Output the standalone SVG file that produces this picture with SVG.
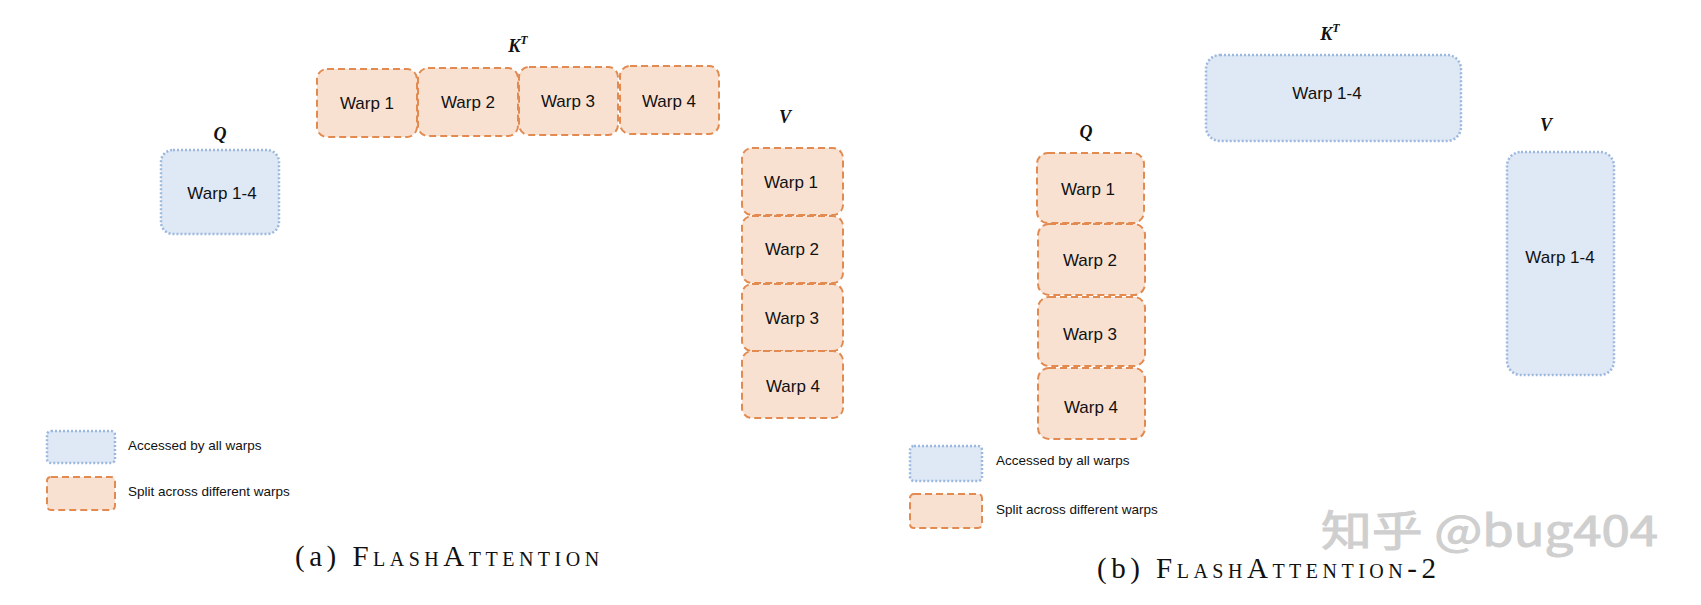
<svg xmlns="http://www.w3.org/2000/svg" width="1701" height="605" viewBox="0 0 1701 605">
<style>
.o{fill:#f9e1d2;stroke:#e28a4f;stroke-width:2;stroke-dasharray:7 4}
.b{fill:#dfe8f5;stroke:#9cb8de;stroke-width:2.5;stroke-dasharray:2 2}
.t{font-family:"Liberation Sans",Arial,sans-serif;font-size:17px;fill:#111;text-anchor:middle;dominant-baseline:central}
.l{font-family:"Liberation Sans",Arial,sans-serif;font-size:13.5px;fill:#111;dominant-baseline:central}
.m{font-family:"Liberation Serif",serif;font-weight:bold;font-style:italic;font-size:18px;fill:#111;text-anchor:middle}
.c{font-family:"Liberation Serif",serif;font-size:29px;fill:#111;letter-spacing:4.5px}
.sc{font-variant:small-caps}
</style>
<rect width="1701" height="605" fill="#fff"/>
<g id="a">
<text class="m" x="518" y="52">K<tspan font-size="12" dy="-8">T</tspan></text>
<g id="a-k1"><rect class="o" x="317" y="69" width="100" height="68" rx="10"/><text class="t" x="367" y="103">Warp 1</text></g>
<g id="a-k2"><rect class="o" x="418" y="68" width="100" height="68" rx="10"/><text class="t" x="468" y="102">Warp 2</text></g>
<g id="a-k3"><rect class="o" x="519" y="67" width="99" height="68" rx="10"/><text class="t" x="568" y="101">Warp 3</text></g>
<g id="a-k4"><rect class="o" x="620" y="66" width="99" height="68" rx="10"/><text class="t" x="669" y="101">Warp 4</text></g>
<text class="m" x="220" y="140">Q</text>
<g id="a-q"><rect class="b" x="161" y="150" width="118" height="84" rx="12"/><text class="t" x="222" y="193">Warp 1-4</text></g>
<text class="m" x="785" y="123">V</text>
<g id="a-v1"><rect class="o" x="742" y="148" width="101" height="67" rx="10"/><text class="t" x="791" y="182">Warp 1</text></g>
<g id="a-v2"><rect class="o" x="742" y="216" width="101" height="67" rx="10"/><text class="t" x="792" y="249">Warp 2</text></g>
<g id="a-v3"><rect class="o" x="742" y="284" width="101" height="67" rx="10"/><text class="t" x="792" y="318">Warp 3</text></g>
<g id="a-v4"><rect class="o" x="742" y="351" width="101" height="67" rx="10"/><text class="t" x="793" y="386">Warp 4</text></g>
<g id="a-leg"><rect class="b" x="47" y="431" width="68" height="32" rx="4"/><text class="l" x="128" y="445">Accessed by all warps</text>
<rect class="o" x="47" y="477" width="68" height="33" rx="4"/><text class="l" x="128" y="491">Split across different warps</text></g>
<text class="c" x="295" y="566">(a) <tspan class="sc">FlashAttention</tspan></text>
</g>
<g id="b">
<text class="m" x="1330" y="40">K<tspan font-size="12" dy="-8">T</tspan></text>
<g id="b-k"><rect class="b" x="1206" y="55" width="255" height="86" rx="14"/><text class="t" x="1327" y="93">Warp 1-4</text></g>
<text class="m" x="1086" y="138">Q</text>
<g id="b-q1"><rect class="o" x="1037" y="153" width="107" height="70" rx="11"/><text class="t" x="1088" y="189">Warp 1</text></g>
<g id="b-q2"><rect class="o" x="1038" y="224" width="107" height="71" rx="11"/><text class="t" x="1090" y="260">Warp 2</text></g>
<g id="b-q3"><rect class="o" x="1038" y="297" width="107" height="69" rx="11"/><text class="t" x="1090" y="334">Warp 3</text></g>
<g id="b-q4"><rect class="o" x="1038" y="368" width="107" height="71" rx="11"/><text class="t" x="1091" y="407">Warp 4</text></g>
<text class="m" x="1546" y="131">V</text>
<g id="b-v"><rect class="b" x="1507" y="152" width="107" height="223" rx="14"/><text class="t" x="1560" y="257">Warp 1-4</text></g>
<g id="b-leg"><rect class="b" x="910" y="446" width="72" height="35" rx="4"/><text class="l" x="996" y="460">Accessed by all warps</text>
<rect class="o" x="910" y="494" width="72" height="34" rx="4"/><text class="l" x="996" y="509">Split across different warps</text></g>
<text x="1321" y="546" font-family="'Noto Sans CJK SC','Liberation Sans',sans-serif" font-size="42" fill="#cfcfcf" stroke="#cfcfcf" stroke-width="1" textLength="337" lengthAdjust="spacingAndGlyphs">知乎 @bug404</text>
<text class="c" x="1097" y="578">(b) <tspan class="sc">FlashAttention-2</tspan></text>
</g>
</svg>
